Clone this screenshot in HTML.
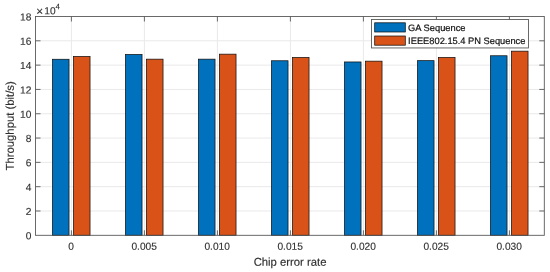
<!DOCTYPE html>
<html><head><meta charset="utf-8"><title>Throughput</title>
<style>
html,body{margin:0;padding:0;background:#fff;}
body{width:550px;height:272px;overflow:hidden;}
svg{display:block;text-rendering:geometricPrecision;font-family:"Liberation Sans",Arial,Helvetica,sans-serif;}
</style></head><body>
<svg width="550" height="272" viewBox="0 0 550 272">
<rect x="0" y="0" width="550" height="272" fill="#ffffff"/>

<g stroke="#e9e9e9" stroke-width="1" fill="none">
<line x1="35.5" y1="210.99" x2="544.3" y2="210.99"/>
<line x1="35.5" y1="186.68" x2="544.3" y2="186.68"/>
<line x1="35.5" y1="162.37" x2="544.3" y2="162.37"/>
<line x1="35.5" y1="138.06" x2="544.3" y2="138.06"/>
<line x1="35.5" y1="113.74" x2="544.3" y2="113.74"/>
<line x1="35.5" y1="89.43" x2="544.3" y2="89.43"/>
<line x1="35.5" y1="65.12" x2="544.3" y2="65.12"/>
<line x1="35.5" y1="40.81" x2="544.3" y2="40.81"/>
<line x1="71.40" y1="16.5" x2="71.40" y2="235.3"/>
<line x1="144.40" y1="16.5" x2="144.40" y2="235.3"/>
<line x1="217.40" y1="16.5" x2="217.40" y2="235.3"/>
<line x1="290.40" y1="16.5" x2="290.40" y2="235.3"/>
<line x1="363.40" y1="16.5" x2="363.40" y2="235.3"/>
<line x1="436.40" y1="16.5" x2="436.40" y2="235.3"/>
<line x1="509.40" y1="16.5" x2="509.40" y2="235.3"/>
</g>
<g stroke="#0c0c0c" stroke-width="0.72">
<rect x="52.46" y="59.26" width="16.58" height="176.04" fill="#0072BD"/>
<rect x="73.46" y="56.46" width="16.58" height="178.84" fill="#D95319"/>
<rect x="125.46" y="54.46" width="16.58" height="180.84" fill="#0072BD"/>
<rect x="146.46" y="59.16" width="16.58" height="176.14" fill="#D95319"/>
<rect x="198.46" y="59.16" width="16.58" height="176.14" fill="#0072BD"/>
<rect x="219.46" y="54.16" width="16.58" height="181.14" fill="#D95319"/>
<rect x="271.46" y="60.76" width="16.58" height="174.54" fill="#0072BD"/>
<rect x="292.46" y="57.46" width="16.58" height="177.84" fill="#D95319"/>
<rect x="344.46" y="61.96" width="16.58" height="173.34" fill="#0072BD"/>
<rect x="365.46" y="61.16" width="16.58" height="174.14" fill="#D95319"/>
<rect x="417.46" y="60.66" width="16.58" height="174.64" fill="#0072BD"/>
<rect x="438.46" y="57.46" width="16.58" height="177.84" fill="#D95319"/>
<rect x="490.46" y="55.76" width="16.58" height="179.54" fill="#0072BD"/>
<rect x="511.46" y="51.16" width="16.58" height="184.14" fill="#D95319"/>
</g>
<g stroke="#555555" stroke-width="0.88" fill="none">
<rect x="35.5" y="16.5" width="508.80" height="218.80"/>
<line x1="35.5" y1="210.99" x2="40.5" y2="210.99"/>
<line x1="544.3" y1="210.99" x2="539.3" y2="210.99"/>
<line x1="35.5" y1="186.68" x2="40.5" y2="186.68"/>
<line x1="544.3" y1="186.68" x2="539.3" y2="186.68"/>
<line x1="35.5" y1="162.37" x2="40.5" y2="162.37"/>
<line x1="544.3" y1="162.37" x2="539.3" y2="162.37"/>
<line x1="35.5" y1="138.06" x2="40.5" y2="138.06"/>
<line x1="544.3" y1="138.06" x2="539.3" y2="138.06"/>
<line x1="35.5" y1="113.74" x2="40.5" y2="113.74"/>
<line x1="544.3" y1="113.74" x2="539.3" y2="113.74"/>
<line x1="35.5" y1="89.43" x2="40.5" y2="89.43"/>
<line x1="544.3" y1="89.43" x2="539.3" y2="89.43"/>
<line x1="35.5" y1="65.12" x2="40.5" y2="65.12"/>
<line x1="544.3" y1="65.12" x2="539.3" y2="65.12"/>
<line x1="35.5" y1="40.81" x2="40.5" y2="40.81"/>
<line x1="544.3" y1="40.81" x2="539.3" y2="40.81"/>
<line x1="71.40" y1="16.5" x2="71.40" y2="21.5"/>
<line x1="71.40" y1="235.3" x2="71.40" y2="230.3"/>
<line x1="144.40" y1="16.5" x2="144.40" y2="21.5"/>
<line x1="144.40" y1="235.3" x2="144.40" y2="230.3"/>
<line x1="217.40" y1="16.5" x2="217.40" y2="21.5"/>
<line x1="217.40" y1="235.3" x2="217.40" y2="230.3"/>
<line x1="290.40" y1="16.5" x2="290.40" y2="21.5"/>
<line x1="290.40" y1="235.3" x2="290.40" y2="230.3"/>
<line x1="363.40" y1="16.5" x2="363.40" y2="21.5"/>
<line x1="363.40" y1="235.3" x2="363.40" y2="230.3"/>
<line x1="436.40" y1="16.5" x2="436.40" y2="21.5"/>
<line x1="436.40" y1="235.3" x2="436.40" y2="230.3"/>
<line x1="509.40" y1="16.5" x2="509.40" y2="21.5"/>
<line x1="509.40" y1="235.3" x2="509.40" y2="230.3"/>
</g>
<g fill="#2e2e2e" stroke="#2e2e2e" stroke-width="0.12" font-size="10.2px">
<text transform="translate(31.40,239.30) skewY(0.05)" text-anchor="end">0</text>
<text transform="translate(31.40,214.99) skewY(0.05)" text-anchor="end">2</text>
<text transform="translate(31.40,190.68) skewY(0.05)" text-anchor="end">4</text>
<text transform="translate(31.40,166.37) skewY(0.05)" text-anchor="end">6</text>
<text transform="translate(31.40,142.06) skewY(0.05)" text-anchor="end">8</text>
<text transform="translate(31.40,117.74) skewY(0.05)" text-anchor="end">10</text>
<text transform="translate(31.40,93.43) skewY(0.05)" text-anchor="end">12</text>
<text transform="translate(31.40,69.12) skewY(0.05)" text-anchor="end">14</text>
<text transform="translate(31.40,44.81) skewY(0.05)" text-anchor="end">16</text>
<text transform="translate(31.40,20.50) skewY(0.05)" text-anchor="end">18</text>
<text transform="translate(71.20,249.65) skewY(0.05)" text-anchor="middle">0</text>
<text transform="translate(144.20,249.65) skewY(0.05)" text-anchor="middle">0.005</text>
<text transform="translate(217.20,249.65) skewY(0.05)" text-anchor="middle">0.010</text>
<text transform="translate(290.20,249.65) skewY(0.05)" text-anchor="middle">0.015</text>
<text transform="translate(363.20,249.65) skewY(0.05)" text-anchor="middle">0.020</text>
<text transform="translate(436.20,249.65) skewY(0.05)" text-anchor="middle">0.025</text>
<text transform="translate(509.20,249.65) skewY(0.05)" text-anchor="middle">0.030</text>
<text transform="translate(36.20,15.30) skewY(0.05)" font-size="11.8px">×</text>
<text transform="translate(44.30,14.30) skewY(0.05)">10</text>
<text transform="translate(55.60,9.30) skewY(0.05)" font-size="8px">4</text>
</g>
<g fill="#2e2e2e" stroke="#2e2e2e" stroke-width="0.15" font-size="11.3px">
<text transform="translate(290.05,265.80) skewY(0.05)" text-anchor="middle">Chip error rate</text>
<text transform="translate(13.7,125.85) rotate(-90) skewY(0.05)" text-anchor="middle">Throughput (bit/s)</text>
</g>
<rect x="371.5" y="19.5" width="157" height="28.45" fill="#ffffff" stroke="#555555" stroke-width="0.88"/>
<g stroke="#0c0c0c" stroke-width="0.72">
<rect x="374.7" y="22.8" width="30.6" height="9.2" fill="#0072BD"/>
<rect x="374.7" y="36.0" width="30.6" height="9.2" fill="#D95319"/>
</g>
<g fill="#111111" stroke="#111111" stroke-width="0.2" font-size="9.3px">
<text transform="translate(408.10,31.00) skewY(0.05)">GA Sequence</text>
<text transform="translate(408.10,43.90) skewY(0.05)">IEEE802.15.4 PN Sequence</text>
</g>
</svg></body></html>
